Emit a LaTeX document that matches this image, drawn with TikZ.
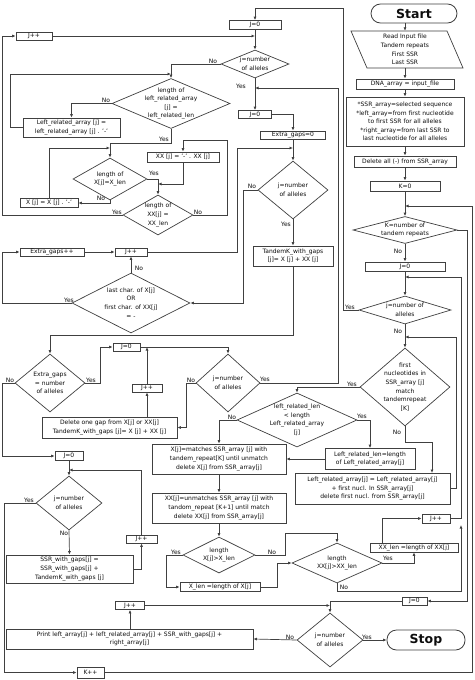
\documentclass[tikz,border=0pt]{standalone}
\usepackage{fontspec}
\setmainfont{DejaVu Sans}
\usetikzlibrary{arrows.meta,shapes.geometric}
\newcommand\smallft{\fontsize{6}{8.6}\selectfont}
\definecolor{lc}{gray}{0.25}
\definecolor{tc}{gray}{0.05}
\tikzset{
  box/.style={draw=lc, line width=0.7pt, fill=white, inner sep=0pt, align=center, font=\smallft, text=tc},
  dia/.style={draw=lc, line width=0.7pt, fill=white, diamond, inner sep=0pt},
  lbl/.style={align=center, font=\smallft, text=tc, inner sep=0pt},
  yn/.style={font=\smallft, text=tc, inner sep=0pt},
  arr/.style={draw=lc, line width=0.7pt, -{Latex[length=3.5pt,width=3pt]}},
  ln/.style={draw=lc, line width=0.7pt},
  term/.style={draw=lc, line width=0.8pt, fill=white, rounded corners=9.5pt, inner sep=0pt, font=\bfseries\fontsize{12.5}{14}\selectfont, text=tc}
}
\begin{document}
\begin{tikzpicture}[x=1pt,y=-1pt]
\fill[white] (0,0) rectangle (474,680);
\useasboundingbox (0,0) rectangle (474,680);

% ---------- right column ----------
\node[term, minimum width=86, minimum height=19] (start) at (414,13.5) {Start};
\draw[ln] (351,31) -- (447,31) -- (463,68) -- (367,68) -- cycle;
\node[lbl, minimum height=37, minimum width=90] (inp) at (405,49.5) {Read Input file\\Tandem repeats\\First SSR\\Last SSR};
\node[box, minimum width=98, minimum height=10] (dna) at (405,84) {DNA\_array = input\_file};
\node[box, minimum width=118, minimum height=49] (ssr) at (405,121.5) {*SSR\_array=selected sequence\\*left\_array=from first nucleotide\\to first SSR for all alleles\\*right\_array=from last SSR to\\last nucleotide for all alleles};
\node[box, minimum width=102, minimum height=11] (del) at (405,161.5) {Delete all (-) from SSR\_array};
\node[box, minimum width=70, minimum height=10] (k0) at (405,186) {K=0};
\node[dia, minimum width=104, minimum height=27, label={[lbl]center:{K=number of\\tandem repeats}}] (kdia) at (405,230) {};
\node[box, minimum width=80, minimum height=9] (j0r) at (405,266.5) {J=0};
\node[dia, minimum width=92, minimum height=28, label={[lbl]center:{j=number of\\alleles}}] (jdr) at (405,310) {};
\node[dia, minimum width=90, minimum height=78, label={[lbl]center:{first\\nucleotides in\\SSR\_array [j]\\match\\tandemrepeat\\{}[K]}}] (fn) at (405,387) {};
\node[dia, minimum width=120, minimum height=54, label={[lbl]center:{left\_related\_len\\< length\\Left\_related\_array\\{}[j]}}] (lrdia) at (297,420) {};
\node[box, minimum width=90, minimum height=21] (lrlen) at (370,459) {Left\_related\_len=length\\of Left\_related\_array[j]};
\node[box, minimum width=155, minimum height=31] (lrarr) at (372.5,488.5) {Left\_related\_array[j] = Left\_related\_array[j]\\+ first nucl. In SSR\_array[j]\\delete first nucl. from SSR\_array[j]};
\node[box, minimum width=134, minimum height=30] (xm) at (219,459) {X[j]=matches SSR\_array [j] with\\tandem\_repeat[K] until unmatch\\delete X[j] from SSR\_array[j]};
\node[box, minimum width=134, minimum height=30] (xxm) at (219,508) {XX[j]=unmatches SSR\_array [j] with\\tandom\_repeat [K+1] until match\\delete XX[j] from SSR\_array[j]};
\node[dia, minimum width=72, minimum height=36, label={[lbl]center:{length\\X[j]>X\_len}}] (xdia) at (219,555) {};
\node[box, minimum width=80, minimum height=9] (xlen) at (220,587) {X\_len =length of X[j]};
\node[dia, minimum width=90, minimum height=40, label={[lbl]center:{length\\XX[j]>XX\_len}}] (xxdia) at (337,563) {};
\node[box, minimum width=88, minimum height=9] (xxlen) at (414,547.5) {XX\_len =length of XX[j]};
\node[box, minimum width=28, minimum height=9] (jpr) at (436,518.5) {J++};
\node[box, minimum width=25, minimum height=8] (j0b) at (414.5,601) {J=0};
\node[dia, minimum width=66, minimum height=54, label={[lbl]center:{j=number\\of alleles}}] (bdia) at (330,640) {};
\node[term, minimum width=78, minimum height=20] (stop) at (426,640) {Stop};
\node[box, minimum width=247, minimum height=20] (print) at (129.5,639) {Print left\_array[j] + left\_related\_array[j] + SSR\_with\_gaps[j] +\\right\_array[j]};
\node[box, minimum width=29, minimum height=8] (jpb) at (130,605.5) {J++};
\node[box, minimum width=27, minimum height=11] (kpp) at (90.5,672.5) {K++};

% ---------- left / middle upper ----------
\node[box, minimum width=52, minimum height=9] (j0t) at (255,25) {J=0};
\node[box, minimum width=36, minimum height=8] (jpt) at (34,36) {J++};
\node[dia, minimum width=68, minimum height=28, label={[lbl]center:{j=number\\of alleles}}] (tdia) at (255,64) {};
\node[dia, minimum width=118, minimum height=50, label={[lbl]center:{length of\\left\_related\_array\\{}[j] =\\left\_related\_len}}] (bigdia) at (171,103.5) {};
\node[box, minimum width=97, minimum height=19] (lrbox) at (71.5,127.5) {Left\_related\_array [j] =\\left\_related\_array [j] . '-'};
\node[dia, minimum width=74, minimum height=42, label={[lbl]center:{length of\\X[j]=X\_len}}] (xdia2) at (110,179) {};
\node[box, minimum width=72, minimum height=10] (xxbox) at (183,157) {XX [j] = '-' . XX [j]};
\node[box, minimum width=58, minimum height=9] (xbox) at (49,203) {X [j] = X [j] . '-'};
\node[dia, minimum width=70, minimum height=40, label={[lbl]center:{length of\\XX[j] =\\XX\_len}}] (xxdia2) at (158,215) {};
\node[box, minimum width=33, minimum height=8] (j0m) at (255,114.5) {J=0};
\node[box, minimum width=65, minimum height=8] (eg0) at (293,135) {Extra\_gaps=0};
\node[dia, minimum width=70, minimum height=58, label={[lbl]center:{j=number\\of alleles}}] (dia3) at (293,190) {};
\node[box, minimum width=80, minimum height=20] (tkbox) at (293,256) {TandemK\_with\_gaps\\{}[j]= X [j] + XX [j]};
\node[box, minimum width=64, minimum height=8] (egpp) at (52,252) {Extra\_gaps++};
\node[box, minimum width=32, minimum height=8] (jpm) at (131,252) {J++};
\node[dia, minimum width=118, minimum height=60, label={[lbl]center:{last char. of X[j]\\OR\\first char. of XX[j]\\= -}}] (lcdia) at (131,303) {};
\node[dia, minimum width=70, minimum height=58, label={[lbl]center:{Extra\_gaps\\= number\\of alleles}}] (egdia) at (50,383) {};
\node[box, minimum width=27, minimum height=8] (j0d) at (126.5,347) {J=0};
\node[dia, minimum width=64, minimum height=58, label={[lbl]center:{j=number\\of alleles}}] (dia4) at (228,383) {};
\node[box, minimum width=135, minimum height=21] (delbox) at (109.5,427.5) {Delete one gap from X[j] or XX[j]\\TandemK\_with\_gaps [j]= X [j] + XX [j]};
\node[box, minimum width=30, minimum height=8] (jpd) at (147,388) {J++};
\node[box, minimum width=28, minimum height=9] (j0l) at (69,456) {J=0};
\node[dia, minimum width=66, minimum height=54, label={[lbl]center:{j=number\\of alleles}}] (dia5) at (69,503) {};
\node[box, minimum width=127, minimum height=28] (ssrbox) at (69.5,569) {SSR\_with\_gaps[j] =\\SSR\_with\_gaps[j] +\\TandemK\_with\_gaps [j]};
\node[box, minimum width=31, minimum height=8] (jpl) at (141.5,539) {J++};

% ---------- merge points ----------
\coordinate (mK) at (405,206);
\coordinate (mJ) at (405,277);
\coordinate (mF) at (405,337);
\coordinate (mX) at (461,525);
\coordinate (mB) at (330,605.5);
\coordinate (mT1) at (255,36);
\coordinate (mT2) at (255,88);
\coordinate (mT3) at (171,74);
\coordinate (mX2) at (110,148);
\coordinate (mXX) at (158,184);
\coordinate (mE) at (293,148);
\coordinate (mD) at (147,347);
\coordinate (mL) at (69,470);
\coordinate (lrin) at (432,473);
\coordinate (xxout) at (382,543);

% ---------- connectors: right column ----------
\draw[arr] (start.south -| inp.north) -- (inp.north);
\draw[arr] (inp.south) -- (dna.north);
\draw[arr] (dna.south) -- (ssr.north);
\draw[arr] (ssr.south) -- (del.north);
\draw[arr] (del.south) -- (k0.north);
\draw[arr] (k0.south) -- (kdia.north);
\draw[arr] (kpp.east) -| (472,206) -- (mK);
\draw[arr] (kdia.south) -- (j0r.north);
\draw[arr] (kdia.east) -| (467,601) -- (j0b.east);
\draw[arr] (j0r.south) -- (jdr.north);
\draw[arr] (jpr.east) -| (461,277) -- (mJ);
\draw[arr] (jdr.west) -| (343,8) -| (j0t.north);
\draw[arr] (jdr.south) -- (fn.north);
\draw[arr] (lrarr.east) -| (456,337) -- (mF);
\draw[arr] (fn.west) -| (lrdia.north);
\draw[arr] (fn.south) |- (432,442) -- (lrin);
\draw[arr] (lrdia.west) -| (xm.north);
\draw[arr] (lrdia.east) -| (lrlen.north);
\draw[arr] (lrlen.west) -- (xm.east);
\draw[arr] (xm.south) -- (xxm.north);
\draw[arr] (xxm.south) -- (xdia.north);
\draw[arr] (xdia.west) -| (166,587) -- (xlen.west);
\draw[arr] (xdia.east) -| (285,533) -| (xxdia.north);
\draw[arr] (xlen.east) -| (277,563) -- (xxdia.west);
\draw[arr] (xxdia.east) -| (xxlen.south);
\draw[arr] (xxdia.south) |- (461,591) -- (mX);
\draw[arr] (xxout) |- (jpr.west);
\draw[arr] (j0b.west) -| (bdia.north);
\draw[arr] (jpb.east) -- (mB);
\draw[arr] (bdia.east) -- (stop.west);
\draw[arr] (bdia.west) -- (print.east);
\draw[arr] (print.north -| jpb.south) -- (jpb.south);

% ---------- connectors: left part ----------
\draw[arr] (j0t.south) -- (tdia.north);
\draw[arr] (jpt.east) -- (mT1);
\draw[arr] (xxdia2.west) -| (2.5,36) -- (jpt.west);
\draw[arr] (tdia.south) -- (j0m.north);
\draw[arr] (dia4.east) -| (338,88) -- (mT2);
\draw[arr] (tdia.west) -| (bigdia.north);
\draw[arr] (lrbox.west) -| (10,74) -- (mT3);
\draw[arr] (bigdia.west) -| (lrbox.north);
\draw[arr] (bigdia.south) |- (110,143) -- (xdia2.north);
\draw[arr] (xbox.north) |- (mX2);
\draw[arr] (xdia2.south) |- (xbox.east);
\draw[arr] (xdia2.east) -| (xxdia2.north);
\draw[arr] (xxbox.south) |- (mXX);
\draw[arr] (xxdia2.east) -| (227,140) -| (xxbox.north);
\draw[arr] (j0m.east) -| (eg0.north);
\draw[arr] (eg0.south) -- (dia3.north);
\draw[arr] (jpm.east) -| (237,148) -- (mE);
\draw[arr] (dia3.south) -- (tkbox.north);
\draw[arr] (dia3.west) -| (243,303) -- (lcdia.east);
\draw[arr] (tkbox.south) |- (50,335) -- (egdia.north);
\draw[arr] (lcdia.north) -- (jpm.south);
\draw[arr] (lcdia.west) -| (2.5,252) -- (egpp.west);
\draw[arr] (egpp.east) -- (jpm.west);
\draw[arr] (egdia.east) -| (100,347) -- (j0d.west);
\draw[arr] (egdia.west) -| (2.5,456) -- (j0l.west);
\draw[arr] (j0d.east) -| (dia4.north);
\draw[arr] (dia4.west) -| (186,427.5) -- (delbox.east);
\draw[arr] (delbox.north -| jpd.south) -- (jpd.south);
\draw[arr] (jpd.north) -- (mD);
\draw[arr] (j0l.south) -- (dia5.north);
\draw[arr] (jpl.north) |- (mL);
\draw[arr] (dia5.south) -- (ssrbox.north);
\draw[arr] (ssrbox.east) -| (jpl.south);
\draw[arr] (dia5.west) -| (4.5,672.5) -- (kpp.west);

% ---------- Yes / No labels ----------
\node[yn] at (213,61) {No};
\node[yn] at (241,86) {Yes};
\node[yn] at (106,100) {No};
\node[yn] at (164,139) {Yes};
\node[yn] at (154,173) {Yes};
\node[yn] at (101,198.5) {No};
\node[yn] at (117,212) {Yes};
\node[yn] at (198,212) {No};
\node[yn] at (252,186) {No};
\node[yn] at (286,224) {Yes};
\node[yn] at (139,268) {No};
\node[yn] at (69,300) {Yes};
\node[yn] at (10,380) {No};
\node[yn] at (91,380) {Yes};
\node[yn] at (191,380) {No};
\node[yn] at (265,379) {Yes};
\node[yn] at (398,251) {No};
\node[yn] at (350,307) {Yes};
\node[yn] at (398,331) {No};
\node[yn] at (352,384) {Yes};
\node[yn] at (397,432) {No};
\node[yn] at (232,417) {No};
\node[yn] at (362,416) {Yes};
\node[yn] at (29,500) {Yes};
\node[yn] at (64,533) {No};
\node[yn] at (176,552) {Yes};
\node[yn] at (272,552) {No};
\node[yn] at (388,558) {Yes};
\node[yn] at (344,587) {No};
\node[yn] at (290,637) {No};
\node[yn] at (367,637) {Yes};
\end{tikzpicture}
\end{document}
